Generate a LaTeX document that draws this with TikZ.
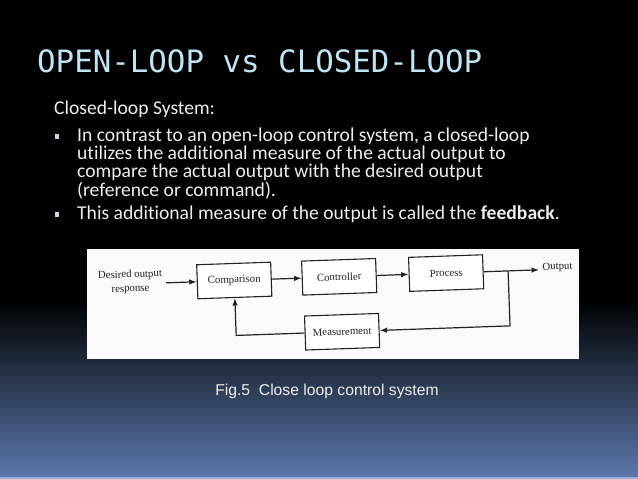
\documentclass[tikz,border=0pt]{standalone}
\usepackage{fontspec}
\usetikzlibrary{arrows.meta,positioning}
\newfontfamily\carlito[Ligatures=NoCommon]{Carlito}
\newfontfamily\titlemono{DejaVu Sans Mono}
\newfontfamily\scanserif{Liberation Serif}
\newfontfamily\captionsans{Liberation Sans}
\definecolor{slideblue}{RGB}{90,119,171}
\definecolor{slideline}{RGB}{150,176,222}
\definecolor{titleblue}{RGB}{192,228,241}
\definecolor{bodywhite}{RGB}{238,238,238}
\definecolor{bulletgray}{RGB}{205,214,226}
\definecolor{scanink}{RGB}{35,35,35}
\tikzset{
  bodyline/.style={anchor=base west,inner sep=0pt,text=bodywhite,font=\carlito\fontsize{19.6}{20}\selectfont},
  bulletsq/.style={fill=bulletgray,minimum size=4.5pt,inner sep=0pt},
  block/.style={draw=scanink,line width=1.1pt,fill=white,minimum width=74pt,minimum height=34pt,text=scanink,font=\scanserif\fontsize{10.8}{12}\selectfont},
  sig/.style={draw=scanink,line width=1.2pt,-{Latex[length=7.5pt,width=5.5pt]}},
  scantext/.style={text=scanink,font=\scanserif\fontsize{10.8}{14}\selectfont,align=center}
}

\begin{document}
\begin{tikzpicture}[x=1pt,y=-1pt]
\useasboundingbox (0,0) rectangle (638,479);
\fill[black] (0,0) rectangle (638,300);
\shade[top color=black,bottom color=slideblue] (0,300) rectangle (638,476.5);
\fill[slideline] (0,476.5) rectangle (638,479);

\node[anchor=base west,inner sep=0pt,text=titleblue,font=\titlemono\fontsize{30.8}{31}\selectfont] (title) at (37,72) {OPEN-LOOP vs CLOSED-LOOP};

\node[bodyline] (head) at (54,114) {Closed-loop System:};
\node[bulletsq] (b1) at (57,136.5) {};
\foreach \t [count=\i] in {{In contrast to an open-loop control system, a closed-loop},{utilizes the additional measure of the actual output to},{compare the actual output with the desired output},{(reference or command).}}
  \node[bodyline] (l\i) at (77,141.3+18.3*\i-18.3) {\t};
\node[bulletsq] (b2) at (57,214.5) {};
\node[bodyline] (l5) at (77,219.5) {This additional measure of the output is called the \textbf{feedback}.};

\fill[white!98!black] (87,249) rectangle (579,359);
\begin{scope}[rotate around={2:(334,300)},transform shape]
\node[scantext] (desired) at (131,275) {Desired output\\response};
\node[block] (comparison) at (235,277) {Comparison};
\node[block] (controller) at (340,277) {Controller};
\node[block] (process) at (447,277) {Process};
\node[block] (measurement) at (341,332) {Measurement};
\node[scantext,anchor=west] (output) at (540,275) {Output};
\coordinate (jn) at (509,277);
\draw[sig] (desired.east |- comparison) -- (comparison);
\draw[sig] (comparison) -- (controller);
\draw[sig] (controller) -- (process);
\draw[sig] (process) -- (output.west |- process);
\draw[sig] (jn) |- (measurement);
\draw[sig] (measurement) -| (comparison);
\end{scope}

\node[anchor=base,inner sep=0pt,text=bodywhite,font=\captionsans\fontsize{15.7}{16}\selectfont] (caption) at (327,395) {Fig.5\ \ Close loop control system};
\end{tikzpicture}
\end{document}
